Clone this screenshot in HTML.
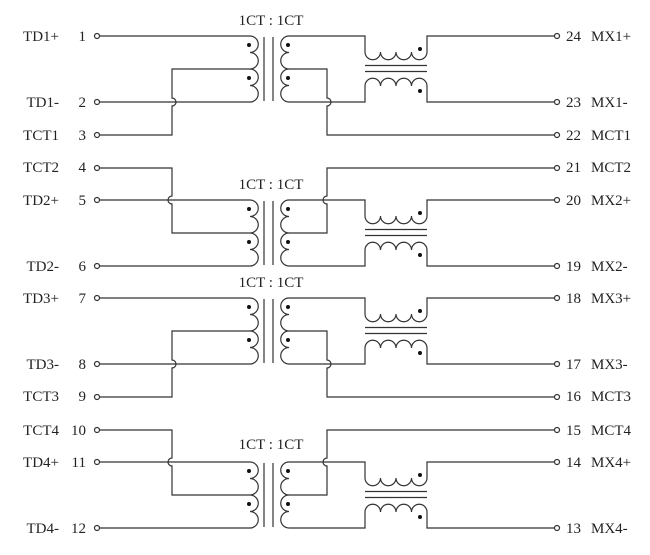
<!DOCTYPE html>
<html><head><meta charset="utf-8"><style>
html,body{margin:0;padding:0;background:#fff;}
svg{display:block;}
svg text{font-family:"Liberation Serif","Times New Roman",serif;font-size:15px;fill:#222;}
</style></head><body>
<svg width="650" height="555" viewBox="0 0 650 555" xmlns="http://www.w3.org/2000/svg" font-family="Liberation Serif, serif" font-size="15">
<defs>
<g id="xf" fill="none" stroke="#333" stroke-width="1.2">
  <path d="M100,0 H250 a8.25,8.25 0 0 1 0,16.5 a8.25,8.25 0 0 1 0,16.5 a8.25,8.25 0 0 1 0,16.5 a8.25,8.25 0 0 1 0,16.5 H100"/>
  <line x1="264" y1="1" x2="264" y2="65"/>
  <line x1="273" y1="1" x2="273" y2="65"/>
  <path d="M555,0 H427 V16 a7.75,7.75 0 0 1 -15.5,0 a7.75,7.75 0 0 1 -15.5,0 a7.75,7.75 0 0 1 -15.5,0 a7.75,7.75 0 0 1 -15.5,0 V0 H289 a8.25,8.25 0 0 0 0,16.5 a8.25,8.25 0 0 0 0,16.5 a8.25,8.25 0 0 0 0,16.5 a8.25,8.25 0 0 0 0,16.5 H365 V50 a7.75,7.75 0 0 1 15.5,0 a7.75,7.75 0 0 1 15.5,0 a7.75,7.75 0 0 1 15.5,0 a7.75,7.75 0 0 1 15.5,0 V66 H555"/>
  <line x1="365" y1="29.5" x2="427" y2="29.5"/>
  <line x1="365" y1="35.5" x2="427" y2="35.5"/>
  <circle cx="97" cy="0" r="2.5" fill="#fff"/>
  <circle cx="97" cy="66" r="2.5" fill="#fff"/>
  <circle cx="557" cy="0" r="2.5" fill="#fff"/>
  <circle cx="557" cy="66" r="2.5" fill="#fff"/>
  <g fill="#111" stroke="none">
    <circle cx="249" cy="9" r="2"/><circle cx="249" cy="42" r="2"/>
    <circle cx="288" cy="9" r="2"/><circle cx="288" cy="42" r="2"/>
    <circle cx="420" cy="13" r="2"/><circle cx="420" cy="55" r="2"/>
  </g>
</g>
<g id="ctd" fill="none" stroke="#333" stroke-width="1.2">
  <path d="M250,33 H172 V62 a4,4 0 0 1 0,8 V99 H100"/>
  <path d="M289,33 H327 V62 a4,4 0 0 1 0,8 V99 H555"/>
  <circle cx="97" cy="99" r="2.5" fill="#fff"/>
  <circle cx="557" cy="99" r="2.5" fill="#fff"/>
</g>
<g id="ctu" fill="none" stroke="#333" stroke-width="1.2">
  <path d="M250,33 H172 V4 a4,4 0 0 1 0,-8 V-32 H100"/>
  <path d="M289,33 H327 V4 a4,4 0 0 1 0,-8 V-32 H555"/>
  <circle cx="97" cy="-32" r="2.5" fill="#fff"/>
  <circle cx="557" cy="-32" r="2.5" fill="#fff"/>
</g>
</defs>

<use href="#xf" transform="translate(0,36)"/>
<use href="#ctd" transform="translate(0,36)"/>
<use href="#xf" transform="translate(0,200)"/>
<use href="#ctu" transform="translate(0,200)"/>
<use href="#xf" transform="translate(0,298)"/>
<use href="#ctd" transform="translate(0,298)"/>
<use href="#xf" transform="translate(0,462)"/>
<use href="#ctu" transform="translate(0,462)"/>

<g text-anchor="middle">
<text x="271" y="25">1CT : 1CT</text>
<text x="271" y="189">1CT : 1CT</text>
<text x="271" y="287">1CT : 1CT</text>
<text x="271" y="449">1CT : 1CT</text>
</g>

<g text-anchor="end">
<text x="59" y="41">TD1+</text><text x="86" y="41">1</text>
<text x="59" y="107">TD1-</text><text x="86" y="107">2</text>
<text x="59" y="140">TCT1</text><text x="86" y="140">3</text>
<text x="59" y="172">TCT2</text><text x="86" y="172">4</text>
<text x="59" y="205">TD2+</text><text x="86" y="205">5</text>
<text x="59" y="271">TD2-</text><text x="86" y="271">6</text>
<text x="59" y="303">TD3+</text><text x="86" y="303">7</text>
<text x="59" y="369">TD3-</text><text x="86" y="369">8</text>
<text x="59" y="401">TCT3</text><text x="86" y="401">9</text>
<text x="59" y="435">TCT4</text><text x="86" y="435">10</text>
<text x="59" y="467">TD4+</text><text x="86" y="467">11</text>
<text x="59" y="533">TD4-</text><text x="86" y="533">12</text>
</g>

<g>
<text x="566" y="41">24</text><text x="591" y="41">MX1+</text>
<text x="566" y="107">23</text><text x="591" y="107">MX1-</text>
<text x="566" y="140">22</text><text x="591" y="140">MCT1</text>
<text x="566" y="172">21</text><text x="591" y="172">MCT2</text>
<text x="566" y="205">20</text><text x="591" y="205">MX2+</text>
<text x="566" y="271">19</text><text x="591" y="271">MX2-</text>
<text x="566" y="303">18</text><text x="591" y="303">MX3+</text>
<text x="566" y="369">17</text><text x="591" y="369">MX3-</text>
<text x="566" y="401">16</text><text x="591" y="401">MCT3</text>
<text x="566" y="435">15</text><text x="591" y="435">MCT4</text>
<text x="566" y="467">14</text><text x="591" y="467">MX4+</text>
<text x="566" y="533">13</text><text x="591" y="533">MX4-</text>
</g>
</svg>
</body></html>
